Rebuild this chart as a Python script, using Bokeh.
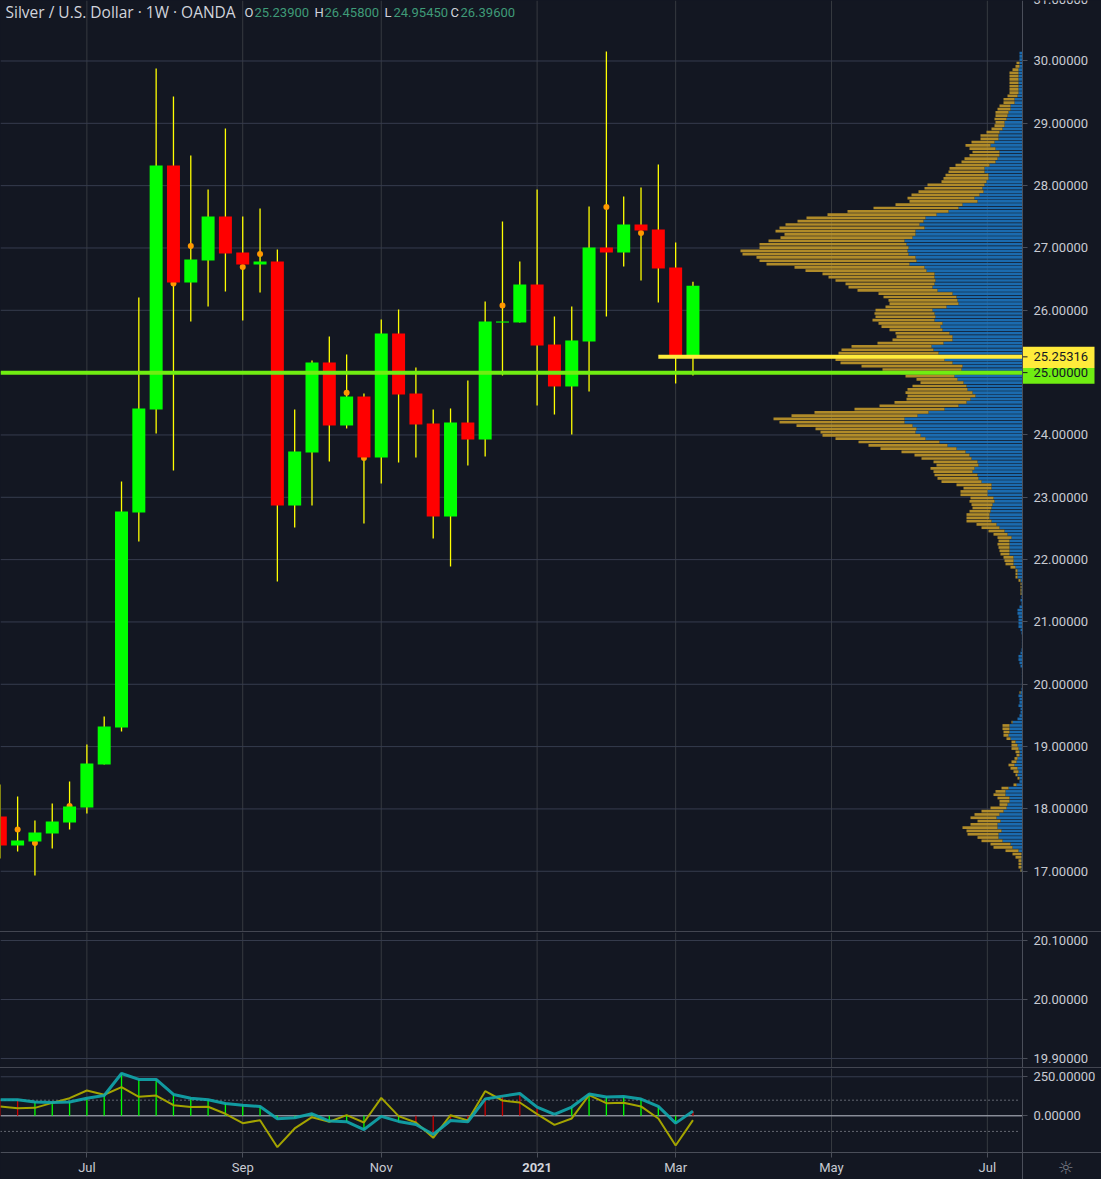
from bokeh.embed import file_html
from bokeh.resources import INLINE
from bokeh.plotting import figure
from bokeh.layouts import column
from bokeh.models import (Range1d, FixedTicker, NumeralTickFormatter, Label, LinearAxis,
                          ColumnDataSource)

# ---- weekly OHLC, OANDA silver ----
opens = [17.879,17.413,17.478,17.606,17.783,18.023,18.713,19.307,22.756,24.409,28.323,26.446,26.799,27.505,26.928,26.735,
         26.783,22.868,23.719,25.163,24.152,24.617,23.639,25.628,24.665,24.184,22.692,24.200,23.927,25.803,25.805,26.414,
         25.451,24.778,25.500,27.008,26.928,27.377,27.297,26.687,25.239]
closes = [17.413,17.494,17.622,17.799,18.039,18.729,19.323,22.772,24.425,28.323,26.446,26.815,27.505,26.912,26.735,26.783,
          22.868,23.735,25.163,24.152,24.617,23.639,25.628,24.649,24.168,22.692,24.200,23.927,25.821,25.821,26.414,25.435,
          24.778,25.516,27.008,26.928,27.377,27.281,26.671,25.239,26.396]
highs = [18.392,18.200,17.815,18.087,18.440,19.034,19.483,23.253,26.206,29.880,29.430,28.484,27.938,28.917,27.505,27.633,
         26.976,24.409,25.195,25.580,25.291,24.665,25.853,26.013,25.083,24.409,24.425,24.874,26.141,27.425,26.783,27.938,
         25.901,26.061,27.666,30.152,27.826,27.970,28.339,27.088,26.458]
lows = [17.205,17.317,16.932,17.365,17.670,17.927,18.713,19.242,22.291,24.024,23.430,25.821,26.061,26.302,25.837,26.286,
        21.649,22.515,22.868,23.574,24.104,22.580,23.221,23.558,23.639,22.339,21.890,23.510,23.655,24.954,25.805,24.473,
        24.328,24.008,24.697,25.901,26.703,26.478,26.125,24.826,24.9545]
weeks = list(range(len(opens)))

# ---- orange dot study ----
dot_weeks = [1,2,4,10,11,14,15,20,21,29,35,37]
dot_prices = [17.670,17.454,18.047,26.430,27.032,26.695,26.904,24.677,23.631,26.077,27.658,27.240]

# ---- visible range volume profile (rows top to bottom) ----
vp_top = 30.1267
vp_step = 0.05288
vp_up = [3,3,3,3,3,4,4,4,4,4,4,4,4,5,8,8,12,12,14,15,16,18,18,20,23,24,24,28,32,27,23,23,25,27,33,38,38,34,34,36,38,40,39,43,48,45,60,64,74,86,
         97,99,103,98,107,107,110,118,116,114,115,114,107,106,113,98,96,88,88,87,88,90,85,70,66,65,64,76,90,88,87,88,80,82,80,73,70,70,79,91,89,84,82,78,70,60,61,66,68,65,
         59,56,55,50,47,52,56,64,78,94,105,118,118,110,106,107,102,97,83,75,66,57,53,51,45,44,48,50,45,44,41,31,31,35,35,29,28,30,31,32,33,33,31,26,23,18,15,11,13,13,
         13,13,13,9,9,9,7,5,5,5,2,1,1,1,1,1,2,1,3,5,5,4,4,4,4,2,1,.6,.6,.6,.6,1,2,4,4,3,2,.6,.6,.6,.6,.6,.6,1,2,4,3,3,4,2,2,3,5,10,13,13,13,14,12,7,5,4,3,3,5,6,8,5,4,5,3,3,
         6,14,17,17,13,13,15,16,19,23,26,22,25,25,21,24,24,20,12,10,4,1,1,1,1,1,1]
vp_down = [0,0,0,3,4,6,9,9,9,9,9,9,9,10,11,11,11,13,13,12,12,9,10,11,13,18,18,23,25,26,27,30,33,34,34,35,36,43,45,45,57,58,65,68,67,68,67,85,101,109,
           119,126,134,145,140,131,132,136,147,149,167,166,159,157,143,130,121,112,106,100,89,84,80,74,73,69,69,61,57,60,60,62,64,59,53,54,56,60,66,80,92,100,104,109,112,101,79,56,49,41,
           43,54,60,67,68,64,72,79,90,114,126,131,125,116,101,95,98,90,81,79,76,64,55,50,44,42,44,39,43,41,40,35,28,27,27,23,25,21,19,21,23,23,25,20,18,16,14,14,11,12,
           11,10,9,10,9,8,5,2,2,2,2,1,1,1,1,0,0,0,0,0,0,0,0,0,0,0,0,0,0,0,0,0,0,0,0,0,0,0,0,0,0,0,0,0,1,0,0,0,0,0,0,0,0,1,7,7,6,5,4,4,6,7,4,3,3,5,6,7,5,2,2,0,3,
           7,10,12,12,10,8,16,22,25,26,23,27,35,35,31,21,21,20,19,13,9,6,3,3,3,1,1]

# ---- CCI pane ----
cci_signal = [103,103,88,85,88,113,130,271,233,233,137,113,103,79,68,60,-19,-13,13,-34,-38,-88,-4,-36,-56,-120,-30,-38,107,126,143,56,9,56,139,120,124,107,60,-47,30]
cci_fast = [60,49,51,83,113,162,135,184,122,130,68,56,58,13,-47,-28,-201,-81,-9,-38,4,-43,115,-2,-43,-141,4,-30,158,98,85,11,-58,-17,132,81,83,60,-17,-190,-28]
hist_dir = ["r","r"] + ["g"]*22 + ["r"]*9 + ["g"]*7 + ["r"]

# ---- axes ----
price_ticks = [17,18,19,20,21,22,23,24,25,26,27,28,29,30]
axis_price_ticks = [17,18,19,20,21,22,23,24,26,27,28,29,30]
mid_ticks = [19.9,20.0,20.1]
cci_ticks = [0,250]
cci_bands = [100,-100]
month_ticks = [5,14,22,31,39,48,57]
month_labels = ["Jul","Sep","Nov","","Mar","May","Jul"]
year_tick = 31
year_label = "2021"
price_now = 25.25316
level_line = 25.0

title_text = "Silver / U.S. Dollar · 1W · OANDA"
ohlc_keys = ["O","H","L","C"]
ohlc_vals = ["25.23900","26.45800","24.95450","26.39600"]

BG = "#131722"; GRID_H = "#363c4e"; GRID_V = "#363a40"; LINE = "#4a4e59"; TXT = "#c8cbd3"
FONT = "Roboto"
W = 1101; FW = 1022
X0, X1 = 0.01155, 59.03          # plotting area up to the price axis
PX = (X1 - X0) / FW              # weeks per pixel
X2 = X0 + PX * W                 # the frame also holds the axis strip

def pane(h, y0, y1, ticks, axis_ticks=None, grid_low=None):
    p = figure(width=W, height=h, x_range=Range1d(X0, X2), y_range=Range1d(y0, y1),
               toolbar_location=None, output_backend="svg",
               x_axis_location=None, y_axis_location=None,
               min_border_left=0, min_border_right=0, min_border_top=0, min_border_bottom=0,
               background_fill_color=BG, border_fill_color=BG, outline_line_color=None,
               styles={"background-color": BG})
    p.grid.visible = False
    low = y0 if grid_low is None else grid_low
    p.segment(x0=month_ticks, x1=month_ticks, y0=low, y1=y1, line_color=GRID_V, line_width=1)
    p.segment(x0=X0, x1=X1, y0=ticks, y1=ticks, line_color=GRID_H, line_width=1)
    ax = LinearAxis(fixed_location=X1, ticker=FixedTicker(ticks=axis_ticks or ticks),
                    formatter=NumeralTickFormatter(format="0.00000"))
    ax.major_tick_out = 5; ax.major_tick_in = 0; ax.minor_tick_out = 0; ax.minor_tick_in = 0
    ax.major_tick_line_color = LINE; ax.axis_line_color = LINE
    ax.major_label_text_color = TXT; ax.major_label_text_font = FONT
    ax.major_label_text_font_size = "13px"; ax.major_label_standoff = 6
    p.add_layout(ax, "right")
    return p

def text(p, x, y, t, color=TXT, size="13px", yu="screen", xu="screen", font=FONT, style="normal",
         align="left", baseline="middle"):
    p.add_layout(Label(x=x, y=y, text=t, x_units=xu, y_units=yu, text_color=color, text_font=font,
                       text_font_size=size, text_baseline=baseline, text_align=align,
                       text_font_style=style))

# ---------- main pane ----------
p1 = pane(931, 16.0336, 30.9706, price_ticks, axis_price_ticks)
p1.extra_x_ranges = {"vp": Range1d(FW, FW - W)}

rows = [vp_top - vp_step*k for k in range(len(vp_up))]
total = [a+b for a,b in zip(vp_up, vp_down)]
p1.hbar(y=rows, left=0, right=vp_up, height=vp_step*0.82, x_range_name="vp", color="#1c72ba", alpha=.93, line_width=0)
p1.hbar(y=rows, left=vp_up, right=total, height=vp_step*0.82, x_range_name="vp", color="#b8912a", alpha=.95, line_width=0)

up = [c >= o for o,c in zip(opens, closes)]
src = ColumnDataSource(dict(w=weeks, o=opens, c=closes, h=highs, l=lows,
                            col=["#00ff00" if u else "#ff0000" for u in up]))
p1.segment(x0="w", x1="w", y0="l", y1="h", source=src, line_color="#ffff00", line_width=1.3)
p1.scatter(dot_weeks, dot_prices, size=6, color="#ff9800", line_width=0)
p1.vbar(x="w", bottom="o", top="c", width=0.75, source=src, fill_color="col", line_color=None)

p1.segment(x0=[X0], x1=[X1], y0=[level_line], y1=[level_line], line_color="#70ed12", line_width=4)
p1.segment(x0=[38], x1=[X1], y0=[price_now], y1=[price_now], line_color="#ffeb3b", line_width=4)

# price tags on the axis
tag_r = X1 + 72*PX
p1.quad(left=[X1, X1], right=[tag_r, tag_r], top=[25.415, 25.075], bottom=[25.075, 24.82],
        fill_color=["#ffeb3b", "#70ed12"], line_color=None)
p1.segment(x0=X1, x1=X1 + 5*PX, y0=[price_now, level_line], y1=[price_now, level_line],
           line_color="#131722", line_width=1)
text(p1, 1033, price_now, "25.25316", "#131722", yu="data")
text(p1, 1033, level_line, "25.00000", "#131722", yu="data")
text(p1, 1033, 932, "31.00000", baseline="alphabetic")

# header
text(p1, 5, 920, title_text, "#d1d4dc", "15.5px", font="Open Sans")
ox = [244, 314, 384, 450]; vx = [254, 324, 393, 460]
for k, v, a, b in zip(ohlc_keys, ohlc_vals, ox, vx):
    text(p1, a, 919, k, "#d1d4dc", "13px")
    text(p1, b, 919, v, "#3f9b78", "13px")

# ---------- empty middle pane ----------
p2 = pane(135, 19.8847, 20.1136, mid_ticks)

# ---------- CCI pane ----------
frame_low = -235
p3 = pane(111, -408, 303, cci_ticks, grid_low=frame_low)
xa = LinearAxis(fixed_location=frame_low, ticker=FixedTicker(ticks=month_ticks))
xa.major_label_overrides = dict(zip(month_ticks, month_labels))
xa.major_tick_out = 5; xa.major_tick_in = 0; xa.minor_tick_out = 0; xa.minor_tick_in = 0
xa.major_tick_line_color = LINE; xa.axis_line_color = LINE
xa.major_label_text_color = TXT; xa.major_label_text_font = FONT
xa.major_label_text_font_size = "13px"; xa.major_label_standoff = 3
p3.add_layout(xa, "below")
p3.segment(x0=[X1], x1=[X1], y0=[-408], y1=[frame_low], line_color=LINE, line_width=1)

p3.segment(x0=X0, x1=X1 - 2*PX, y0=cci_bands, y1=cci_bands, line_color="#b2b5be", line_width=1, line_dash="1 3")
p3.segment(x0=[X0], x1=[X1], y0=[0], y1=[0], line_color="#b2b5be", line_width=1)
p3.segment(x0=weeks, x1=weeks, y0=0, y1=cci_signal, line_width=1.3,
           line_color=["#00ff00" if d == "g" else "#cc0000" for d in hist_dir])
p3.line(weeks, cci_fast, line_color="#a3a300", line_width=2)
p3.line(weeks, cci_signal, line_color="#12a9ae", line_width=3, line_alpha=.9)

text(p3, year_tick, 12, year_label, "#d1d4dc", "13px", xu="data", style="bold", align="center")
text(p3, 1065, 12, "☼", "#787b86", "18px", font="DejaVu Sans", align="center")

layout = column(p1, p2, p3, spacing=1,
                styles={"position": "fixed", "left": "0", "top": "0", "background-color": "#434651"})
open("out.html", "w").write(file_html(layout, INLINE))
